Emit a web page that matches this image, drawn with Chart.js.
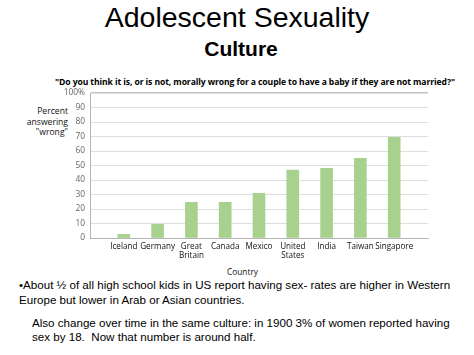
<!DOCTYPE html>
<html>
<head>
<meta charset="utf-8">
<script src="https://cdn.jsdelivr.net/npm/chart.js@4"></script>
<style>
  html, body { margin: 0; padding: 0; background: #fff; }
  body { width: 474px; height: 355px; position: relative; overflow: hidden; font-family: "Liberation Sans", Arial, sans-serif; color: #000; }
  .t { position: absolute; white-space: nowrap; }
  #wrap { position: absolute; left: 0; top: 0; width: 474px; height: 355px; }
</style>
</head>
<body>
<div class="t" style="left:0;width:474px;text-align:center;top:1px;font-size:28.5px;line-height:32px;">Adolescent Sexuality</div>
<div class="t" style="left:0;width:482px;text-align:center;top:36px;font-size:21px;line-height:26px;font-weight:bold;">Culture</div>
<div class="t" style="left:0;width:510px;text-align:center;top:76px;font-size:8.6px;line-height:12px;font-weight:bold;font-family:'Open Sans',sans-serif;letter-spacing:-0.1px;">"Do you think it is, or is not, morally wrong for a couple to have a baby if they are not married?"</div>
<div class="t" style="left:0;width:68px;text-align:right;top:106px;font-size:8.6px;line-height:10.5px;font-family:'Open Sans',sans-serif;color:#111;">Percent<br>answering<br>"wrong"</div>
<div class="t" style="left:0;width:485px;text-align:center;top:266px;font-size:8.3px;line-height:12px;font-family:'Open Sans',sans-serif;color:#111;">Country</div>
<div class="t" style="left:19px;top:278px;font-size:11.6px;line-height:14.6px;">•About ½ of all high school kids in US report having sex- rates are higher in Western<br>Europe but lower in Arab or Asian countries.</div>
<div class="t" style="left:32px;top:316px;font-size:11.6px;line-height:13.6px;">Also change over time in the same culture: in 1900 3% of women reported having<br>sex by 18.&nbsp; Now that number is around half.</div>
<div id="wrap"><canvas id="c"></canvas></div>
<script>
const categories = ['', 'Iceland', 'Germany', ['Great', 'Britain'], 'Canada', 'Mexico', ['United', 'States'], 'India', 'Taiwan', 'Singapore', ''];
const percentWrong = [null, 2.5, 9.4, 24.6, 24.6, 30.8, 46.9, 48, 55, 69.4, null];
const yTickLabels = { 0: '0', 10: '10', 20: '20', 30: '30', 40: '40', 50: '50', 60: '60', 70: '70', 80: '80', 90: '90', 100: '100%' };

new Chart(document.getElementById('c'), {
  type: 'bar',
  data: {
    labels: categories,
    datasets: [{
      data: percentWrong,
      backgroundColor: '#a9d18e',
      borderWidth: 0,
      barThickness: 12
    }]
  },
  options: {
    responsive: true,
    maintainAspectRatio: false,
    animation: false,
    layout: { padding: { left: 58, right: 46, top: 93, bottom: 87 } },
    plugins: { legend: { display: false }, tooltip: { enabled: false } },
    scales: {
      x: {
        offset: false,
        afterFit: s => { s.height = 30; },
        grid: { display: false, drawTicks: false },
        border: { display: true, color: '#b5b5b5', width: 1 },
        ticks: {
          autoSkip: false, maxRotation: 0, minRotation: 0, padding: 4,
          color: '#111',
          font: { family: 'Open Sans', size: 8.1, lineHeight: 1.15 }
        }
      },
      y: {
        min: 0, max: 100,
        afterFit: s => { s.width = 32; },
        border: { display: true, color: '#b5b5b5', width: 1 },
        grid: {
          drawTicks: false,
          color: ctx => ctx.tick && ctx.tick.value === 100 ? '#c2c2c2' : (ctx.tick && ctx.tick.value === 0 ? '#b5b5b5' : '#dedede'),
          lineWidth: ctx => ctx.tick && ctx.tick.value === 100 ? 1.5 : 1
        },
        ticks: {
          stepSize: 10, padding: 5, color: '#666',
          font: { family: 'Open Sans', size: 8.4 },
          callback: v => yTickLabels[v]
        }
      }
    }
  }
});
</script>
</body>
</html>
